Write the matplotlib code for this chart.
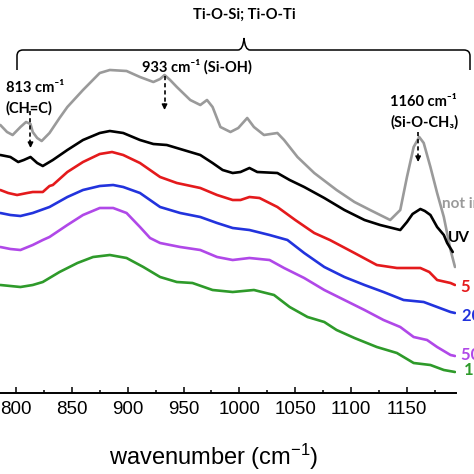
import numpy as np
import matplotlib
matplotlib.use("Agg")
import matplotlib.pyplot as plt
from matplotlib.path import Path
import matplotlib.patches as patches

plt.rcParams['mathtext.fontset'] = 'custom'
plt.rcParams['mathtext.rm'] = 'Liberation Sans'
plt.rcParams['mathtext.it'] = 'Liberation Sans:italic'
plt.rcParams['mathtext.bf'] = 'Liberation Sans:bold'

# FTIR spectra, stacked (absorbance, arbitrary offset units)
wn_not_irr = [786, 792, 797, 804, 809, 813, 815, 819, 823, 830, 839, 846, 860, 875, 884, 899,
              911, 923, 929, 933, 938, 944, 956, 965, 971, 976, 983, 992, 999, 1007, 1013, 1022,
              1034, 1040, 1052, 1067, 1087, 1103, 1117, 1126, 1135, 1144, 1150, 1156, 1161, 1165,
              1171, 1177, 1183, 1189, 1193]
a_not_irr = [268, 261, 258, 266, 271, 269, 261, 255, 252, 260, 275, 286, 303, 320, 323, 322,
             316, 311, 314, 318, 313, 306, 293, 288, 293, 286, 266, 261, 265, 275, 266, 258,
             260, 253, 236, 220, 203, 191, 183, 178, 173, 183, 216, 246, 256, 250,
             226, 200, 176, 143, 126]

wn_uv = [786, 795, 802, 807, 813, 819, 824, 833, 846, 860, 875, 884, 896, 911, 923, 935, 950,
         965, 976, 985, 994, 1001, 1009, 1016, 1034, 1045, 1058, 1076, 1094, 1112, 1126, 1144,
         1150, 1155, 1162, 1166, 1171, 1177, 1183, 1186, 1191]
a_uv = [238, 236, 231, 233, 236, 230, 227, 233, 243, 253, 260, 262, 260, 253, 249, 248, 243,
        238, 230, 223, 220, 221, 225, 221, 220, 213, 206, 195, 183, 173, 168, 163,
        171, 179, 184, 182, 178, 166, 158, 150, 141]

wn_5 = [786, 793, 801, 810, 815, 824, 830, 833, 846, 860, 875, 886, 896, 911, 929, 944, 965,
        980, 994, 1001, 1009, 1018, 1034, 1050, 1067, 1081, 1103, 1123, 1141, 1162, 1170,
        1177, 1189, 1193]
a_5 = [203, 200, 198, 200, 201, 201, 207, 208, 221, 231, 239, 241, 238, 230, 216, 210, 205,
       198, 193, 193, 196, 195, 186, 173, 160, 153, 140, 128, 125, 125, 121,
       113, 110, 108]

wn_20 = [786, 795, 804, 815, 830, 846, 860, 875, 887, 896, 911, 929, 947, 965, 980, 994, 1009,
         1027, 1043, 1058, 1076, 1094, 1112, 1129, 1147, 1165, 1177, 1189, 1193]
a_20 = [180, 178, 177, 180, 186, 196, 203, 207, 208, 206, 200, 186, 180, 176, 170, 165, 163,
        158, 153, 140, 126, 116, 108, 101, 93, 91, 86, 81, 80]

wn_50 = [786, 795, 804, 815, 824, 830, 846, 860, 875, 887, 899, 911, 920, 929, 947, 965, 980,
         994, 1009, 1027, 1040, 1058, 1076, 1094, 1112, 1129, 1144, 1156, 1168, 1177, 1189, 1193]
a_50 = [146, 144, 143, 148, 153, 156, 168, 178, 185, 185, 180, 166, 155, 150, 146, 143, 136,
        133, 135, 133, 125, 115, 103, 93, 83, 73, 66, 56, 53, 46, 38, 37]

wn_100 = [786, 804, 815, 824, 839, 855, 869, 884, 899, 914, 929, 944, 958, 976, 994, 1013,
          1031, 1045, 1061, 1076, 1087, 1103, 1123, 1141, 1156, 1171, 1183, 1193]
a_100 = [108, 106, 108, 111, 121, 130, 136, 138, 135, 126, 116, 111, 110, 103, 101, 103,
         98, 86, 76, 71, 63, 55, 46, 40, 30, 28, 23, 21]

series = [
    (wn_not_irr, a_not_irr, '#9a9a9a', 'not irradiated', 1181.5, 189, 11),
    (wn_uv, a_uv, '#000000', 'UV', 1187, 155, 11),
    (wn_5, a_5, '#e41a1c', '5 min', 1198, 106, 12),
    (wn_20, a_20, '#2233dd', '20 min', 1199, 77, 12),
    (wn_50, a_50, '#b048e8', '50 min', 1198, 38, 12),
    (wn_100, a_100, '#2e9a2a', '100 min', 1201.5, 23, 12),
]

W = 474
fig = plt.figure(figsize=(4.74, 4.74), dpi=100)
ax = fig.add_axes([0, 81 / W, 456 / W, 393 / W])

for wn, a, c, lab, lx, ly, fs in series:
    ax.plot(wn, a, color=c, lw=1.9, solid_joinstyle='round', solid_capstyle='round', zorder=3)
    ax.text(lx, ly, lab, color=c, fontsize=fs, fontweight='bold', family=['Lato', 'DejaVu Sans'],
            va='center', ha='left', clip_on=False)

ax.set_xlim(785.7, 1193.9)
ax.set_ylim(0, 393)
for s in ['left', 'right', 'top']:
    ax.spines[s].set_visible(False)
ax.spines['bottom'].set_linewidth(1.4)
ax.set_yticks([])
ax.set_xticks(np.arange(800, 1151, 50))
ax.set_xticks(np.arange(825, 1176, 50), minor=True)
ax.tick_params(axis='x', which='major', direction='in', length=4.5, width=1.1, pad=6,
               labelsize=13.5)
ax.tick_params(axis='x', which='minor', direction='in', length=2.3, width=1.1)
for t in ax.get_xticklabels():
    t.set_fontfamily('Liberation Sans')

fig.text(214 / W, 1 - 457 / W, r'wavenumber (cm$^{-1}$)', fontsize=17, family='Liberation Sans',
         ha='center', va='center')

# peak annotations
afont = dict(fontsize=10.5, fontweight='bold', family=['Lato', 'DejaVu Sans'], color='black')
ax.text(791, 305, '813 cm⁻¹', ha='left', va='center', **afont)
ax.text(791, 285, '(CH=C)', ha='left', va='center', **afont)
ax.text(913, 326, '933 cm⁻¹ (Si-OH)', ha='left', va='center', **afont)
ax.text(1164.5, 291, '1160 cm⁻¹', ha='center', va='center', **afont)
ax.text(1166, 271, '(Si-O-CH₃)', ha='center', va='center', **afont)

arrows = [(813, 282, 245), (933, 317, 283), (1160, 261, 231)]
for x0, y0, y1 in arrows:
    ax.plot([x0, x0], [y0, y1 + 5], color='black', lw=1.2, ls=(0, (2.5, 1.8)), zorder=4)
    ax.annotate('', xy=(x0, y1), xytext=(x0, y1 + 6),
                arrowprops=dict(arrowstyle='-|>', color='black', lw=1.0, mutation_scale=8,
                                shrinkA=0, shrinkB=0), zorder=4)

# bracket over the Ti-O-Si / Ti-O-Ti region (figure pixel coords)
def fp(x, y):
    return (x / W, 1 - y / W)

verts = [fp(17, 70), fp(17, 56), fp(17, 50), fp(23, 50), fp(238, 50), fp(243, 50), fp(244, 38),
         fp(245, 50), fp(250, 50), fp(464, 50), fp(470, 50), fp(470, 56), fp(470, 70)]
codes = [Path.MOVETO, Path.LINETO, Path.CURVE3, Path.CURVE3, Path.LINETO, Path.CURVE3, Path.CURVE3,
         Path.CURVE3, Path.CURVE3, Path.LINETO, Path.CURVE3, Path.CURVE3, Path.LINETO]
brace = patches.PathPatch(Path(verts, codes), transform=fig.transFigure, facecolor='none',
                          edgecolor='black', lw=1.1)
fig.patches.append(brace)
fig.text(244 / W, 1 - 15 / W, 'Ti-O-Si; Ti-O-Ti', ha='center', va='center', **afont)

fig.savefig('out.png', dpi=100)
